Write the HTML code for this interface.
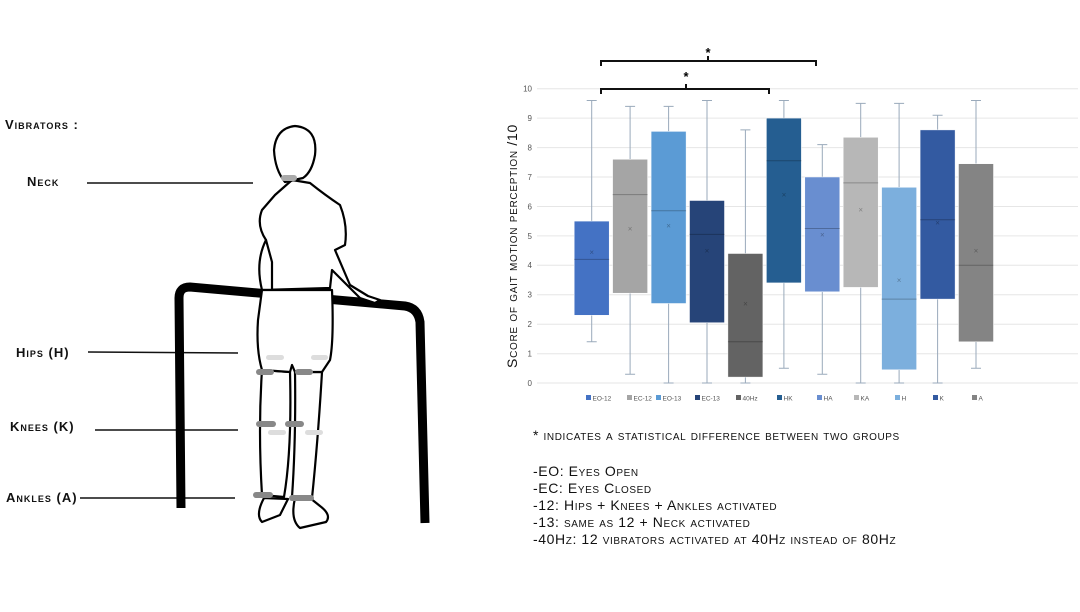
<!DOCTYPE html>
<html><head><meta charset="utf-8"><style>
body{margin:0;background:#fff;width:1080px;height:607px;overflow:hidden;font-family:"Liberation Sans",sans-serif;}
</style></head><body>
<svg width="1080" height="607" viewBox="0 0 1080 607" xmlns="http://www.w3.org/2000/svg">
<g font-family="Liberation Sans,sans-serif" font-weight="bold" font-size="13" fill="#111" style="font-variant:small-caps" letter-spacing="1">
<text x="5" y="129">Vibrators :</text>
<text x="27" y="186">Neck</text>
<text x="16" y="357">Hips (H)</text>
<text x="10" y="431">Knees (K)</text>
<text x="6" y="502">Ankles (A)</text>
</g>
<g stroke="#111" stroke-width="1.5">
<line x1="87" y1="183" x2="253" y2="183"/>
<line x1="88" y1="352" x2="238" y2="353"/>
<line x1="95" y1="430" x2="238" y2="430"/>
<line x1="80" y1="498" x2="235" y2="498"/>
</g>
<path d="M181,508 L179,298 Q179,287 190,287 L405,306 Q418,308 420,322 L425,523" fill="none" stroke="#000" stroke-width="9"/>
<g fill="#fff" stroke="#000" stroke-width="2.2" stroke-linejoin="round">
<path d="M262,290 L266,240 Q256,225 262,210 L275,195 L292,180 L310,183 Q325,195 340,205 Q348,225 345,245 L335,250 L350,285 L368,296 L380,300 L375,303 L360,298 L332,270 L330,288 Z"/>
<path d="M266,240 Q255,262 262,290 L272,290 L272,262 Z"/>
<path d="M285,182 Q275,170 274,150 Q276,128 295,126 Q318,128 315,155 Q312,172 303,178 Z"/>
<path d="M262,370 Q258,430 262,495 L284,497 Q292,450 290,372 Z"/>
<path d="M295,372 Q296,440 292,497 L312,498 Q318,440 322,372 Z"/>
<path d="M264,498 Q255,515 262,522 L280,515 L288,499 Z"/>
<path d="M295,498 Q290,520 300,528 L326,522 Q332,515 320,506 L310,498 Z"/>
<path d="M262,290 L332,290 Q334,340 330,360 L322,372 L295,372 L292,365 L290,372 L262,370 Q256,350 258,320 Z"/>
</g>
<g>
<rect x="281" y="175" width="16" height="6" rx="3" fill="#aaa"/>
<rect x="266" y="355" width="18" height="5" rx="2.5" fill="#ddd"/><rect x="311" y="355" width="17" height="5" rx="2.5" fill="#ddd"/>
<rect x="256" y="369" width="18" height="6" rx="3" fill="#888"/><rect x="295" y="369" width="18" height="6" rx="3" fill="#888"/>
<rect x="256" y="421" width="20" height="6" rx="3" fill="#888"/><rect x="285" y="421" width="19" height="6" rx="3" fill="#888"/>
<rect x="268" y="430" width="18" height="5" rx="2.5" fill="#ddd"/><rect x="305" y="430" width="18" height="5" rx="2.5" fill="#ddd"/>
<rect x="253" y="492" width="20" height="6" rx="3" fill="#888"/><rect x="289" y="495" width="25" height="6" rx="3" fill="#888"/>
</g>
<g stroke="#e6e6e6" stroke-width="1">
<line x1="537" y1="88.7" x2="1078" y2="88.7"/><line x1="537" y1="118.1" x2="1078" y2="118.1"/><line x1="537" y1="147.6" x2="1078" y2="147.6"/><line x1="537" y1="177" x2="1078" y2="177"/><line x1="537" y1="206.5" x2="1078" y2="206.5"/><line x1="537" y1="235.9" x2="1078" y2="235.9"/><line x1="537" y1="265.3" x2="1078" y2="265.3"/><line x1="537" y1="294.8" x2="1078" y2="294.8"/><line x1="537" y1="324.2" x2="1078" y2="324.2"/><line x1="537" y1="353.7" x2="1078" y2="353.7"/><line x1="537" y1="383" x2="1078" y2="383"/>
</g>
<g font-size="8" fill="#555" text-anchor="end">
<text x="532" y="91.5">10</text><text x="532" y="121">9</text><text x="532" y="150.5">8</text><text x="532" y="180">7</text><text x="532" y="209.5">6</text><text x="532" y="239">5</text><text x="532" y="268">4</text><text x="532" y="297.5">3</text><text x="532" y="327">2</text><text x="532" y="356.5">1</text><text x="532" y="386">0</text>
</g>
<text transform="translate(517,246) rotate(-90)" text-anchor="middle" font-size="14" fill="#111" style="font-variant:small-caps" letter-spacing="0.7">Score of gait motion perception /10</text>
<g stroke="#9aaabb" stroke-width="1">
<path d="M591.7,100.5V341.8M586.7,100.5h10M586.7,341.8h10"/>
<path d="M630.1,106.4V374.2M625.1,106.4h10M625.1,374.2h10"/>
<path d="M668.6,106.4V383M663.6,106.4h10M663.6,383h10"/>
<path d="M707,100.5V383M702,100.5h10M702,383h10"/>
<path d="M745.4,129.9V383M740.4,129.9h10M740.4,383h10"/>
<path d="M783.9,100.5V368.3M778.9,100.5h10M778.9,368.3h10"/>
<path d="M822.3,144.6V374.2M817.3,144.6h10M817.3,374.2h10"/>
<path d="M860.7,103.4V383M855.7,103.4h10M855.7,383h10"/>
<path d="M899.1,103.4V383M894.1,103.4h10M894.1,383h10"/>
<path d="M937.6,115.2V383M932.6,115.2h10M932.6,383h10"/>
<path d="M976,100.5V368.3M971,100.5h10M971,368.3h10"/>
</g>
<g stroke="#fff" stroke-width="0.5">
<rect x="574.2" y="221.1" width="35" height="94.2" fill="#4472c4"/>
<rect x="612.6" y="159.3" width="35" height="133.9" fill="#a5a5a5"/>
<rect x="651.1" y="131.4" width="35" height="172.1" fill="#5b9bd5"/>
<rect x="689.5" y="200.5" width="35" height="122.2" fill="#264478"/>
<rect x="727.9" y="253.5" width="35" height="123.6" fill="#636363"/>
<rect x="766.4" y="118.1" width="35" height="164.8" fill="#255e91"/>
<rect x="804.8" y="177" width="35" height="114.8" fill="#698ed0"/>
<rect x="843.2" y="137.3" width="35" height="150.1" fill="#b7b7b7"/>
<rect x="881.6" y="187.3" width="35" height="182.5" fill="#7cafdd"/>
<rect x="920.1" y="129.9" width="35" height="169.2" fill="#335aa1"/>
<rect x="958.5" y="163.7" width="35" height="178.1" fill="#848484"/>
</g>
<g stroke="rgba(0,0,0,0.25)" stroke-width="1">
<path d="M574.2,259.4h35M612.6,194.6h35M651.1,210.8h35M689.5,234.4h35M727.9,341.8h35M766.4,160.8h35M804.8,228.5h35M843.2,182.9h35M881.6,299.1h35M920.1,219.7h35M958.5,265.3h35"/>
</g>
<g font-size="8" fill="rgba(0,0,0,0.3)" text-anchor="middle">
<text x="591.7" y="255">×</text><text x="630.1" y="231.5">×</text><text x="668.6" y="228.5">×</text><text x="707" y="253.6">×</text><text x="745.4" y="306.5">×</text><text x="783.9" y="197.6">×</text><text x="822.3" y="237.4">×</text><text x="860.7" y="212.4">×</text><text x="899.1" y="283">×</text><text x="937.6" y="225.6">×</text><text x="976" y="253.6">×</text>
</g>
<g font-size="6.5" fill="#555">
<rect x="586" y="395" width="5" height="5" fill="#4472c4"/><text x="592.5" y="400.5">EO-12</text>
<rect x="627" y="395" width="5" height="5" fill="#a5a5a5"/><text x="633.5" y="400.5">EC-12</text>
<rect x="656" y="395" width="5" height="5" fill="#5b9bd5"/><text x="662.5" y="400.5">EO-13</text>
<rect x="695" y="395" width="5" height="5" fill="#264478"/><text x="701.5" y="400.5">EC-13</text>
<rect x="736" y="395" width="5" height="5" fill="#636363"/><text x="742.5" y="400.5">40Hz</text>
<rect x="777" y="395" width="5" height="5" fill="#255e91"/><text x="783.5" y="400.5">HK</text>
<rect x="817" y="395" width="5" height="5" fill="#698ed0"/><text x="823.5" y="400.5">HA</text>
<rect x="854" y="395" width="5" height="5" fill="#b7b7b7"/><text x="860.5" y="400.5">KA</text>
<rect x="895" y="395" width="5" height="5" fill="#7cafdd"/><text x="901.5" y="400.5">H</text>
<rect x="933" y="395" width="5" height="5" fill="#335aa1"/><text x="939.5" y="400.5">K</text>
<rect x="972" y="395" width="5" height="5" fill="#848484"/><text x="978.5" y="400.5">A</text>
</g>
<g stroke="#111" stroke-width="2" fill="none">
<path d="M601,66 L601,61 L816,61 L816,66 M708,61 L708,56"/>
<path d="M601,94 L601,89 L769,89 L769,94 M686,89 L686,84"/>
</g>
<text x="708" y="57" text-anchor="middle" font-size="13" font-weight="bold">*</text>
<text x="686" y="81" text-anchor="middle" font-size="13" font-weight="bold">*</text>
<g font-size="14" fill="#111" style="font-variant:small-caps" letter-spacing="0.6">
<text x="533" y="440">* indicates a statistical difference between two groups</text>
<text x="533" y="476">-EO: Eyes Open</text>
<text x="533" y="493">-EC: Eyes Closed</text>
<text x="533" y="510">-12: Hips + Knees + Ankles activated</text>
<text x="533" y="527">-13: same as 12 + Neck activated</text>
<text x="533" y="544">-40Hz: 12 vibrators activated at 40Hz instead of 80Hz</text>
</g>
</svg>
</body></html>
